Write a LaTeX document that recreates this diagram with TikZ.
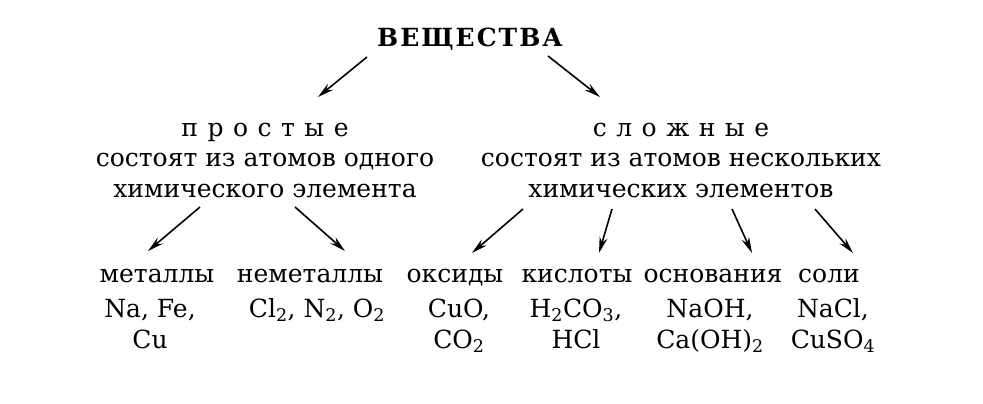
\documentclass[tikz,border=0pt]{standalone}
\usepackage{fontspec}
\setmainfont{DejaVu Serif}
\usetikzlibrary{arrows.meta}
\newcommand{\txt}{\fontsize{25}{30.5}\selectfont}
\newcommand{\spaced}{\addfontfeature{LetterSpace=38}}
\tikzset{
  arr/.style={-{Stealth[length=16pt,width=8pt]}, line width=1.6pt},
  lbl/.style={anchor=base, font=\txt, inner sep=0pt, align=center}
}
\begin{document}
\begin{tikzpicture}[x=1pt,y=-1pt]
        \useasboundingbox (0,0) rectangle (983,404);

        \node[lbl, font=\fontsize{25}{28}\selectfont\bfseries\addfontfeature{LetterSpace=8}] (top) at (470,47) {ВЕЩЕСТВА};

        \node[lbl] (simple) at (265,197) {{\spaced простые}\\состоят из атомов одного\\химического элемента};
        \node[lbl] (complex) at (681,197) {{\spaced сложные}\\состоят из атомов нескольких\\химических элементов};

        \node[lbl] (metals) at (157,282) {металлы};
        \node[lbl] (nonmetals) at (310,282) {неметаллы};
        \node[lbl] (oxides) at (455,282) {оксиды};
        \node[lbl] (acids) at (577,282) {кислоты};
        \node[lbl] (bases) at (713,282) {основания};
        \node[lbl] (salts) at (829,282) {соли};

        \node[lbl] (metalsF) at (150,348) {Na, Fe,\\Cu};
        \node[lbl] (nonmetalsF) at (317,317) {Cl\textsubscript{2}, N\textsubscript{2}, O\textsubscript{2}};
        \node[lbl] (oxidesF) at (459,348) {CuO,\\CO\textsubscript{2}};
        \node[lbl] (acidsF) at (576,348) {H\textsubscript{2}CO\textsubscript{3},\\HCl};
        \node[lbl] (basesF) at (710,348) {NaOH,\\Ca(OH)\textsubscript{2}};
        \node[lbl] (saltsF) at (833,348) {NaCl,\\CuSO\textsubscript{4}};

        \coordinate (t1) at (367,57);
        \coordinate (t2) at (548,56);
        \coordinate (s1) at (318,97);
        \coordinate (c1) at (600,97);
        \coordinate (sa) at (200,207);
        \coordinate (sb) at (295,207);
        \coordinate (ca) at (523,209);
        \coordinate (cb) at (612,209);
        \coordinate (cc) at (732,209);
        \coordinate (cd) at (815,209);
        \coordinate (m1) at (148,251);
        \coordinate (n1) at (345,251);
        \coordinate (o1) at (472,253);
        \coordinate (a1) at (599,253);
        \coordinate (b1) at (752,253);
        \coordinate (l1) at (853,253);

        \draw[arr] (t1) -- (s1);
        \draw[arr] (t2) -- (c1);
        \draw[arr] (sa) -- (m1);
        \draw[arr] (sb) -- (n1);
        \draw[arr] (ca) -- (o1);
        \draw[arr] (cb) -- (a1);
        \draw[arr] (cc) -- (b1);
        \draw[arr] (cd) -- (l1);
    \end{tikzpicture}
\end{document}
